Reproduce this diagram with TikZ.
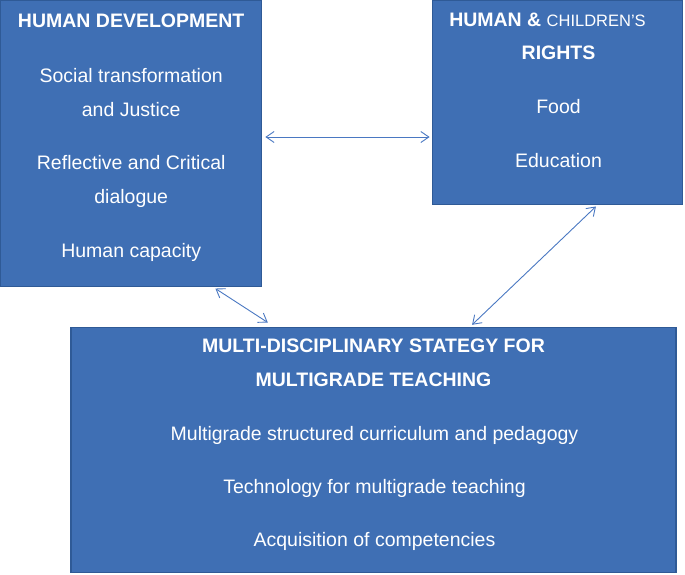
\documentclass[tikz,border=0pt]{standalone}
\usepackage{fontspec}
\setmainfont{Liberation Sans}
\usetikzlibrary{arrows.meta,positioning,calc}
\definecolor{PanelBlue}{HTML}{3F6FB4}
\definecolor{PanelEdge}{HTML}{2F5A96}
\definecolor{LinkBlue}{HTML}{4A78C2}

\tikzset{
  panel/.style={fill=PanelBlue,draw=PanelEdge,line width=1.3pt,inner sep=0pt},
  body/.style={text=white,inner sep=0pt,anchor=base,font=\fontsize{19.5}{23}\selectfont},
  title/.style={body,font=\fontsize{19.5}{23}\selectfont\bfseries},
  link/.style={{Straight Barb[length=8pt,width=11pt]}-{Straight Barb[length=8pt,width=11pt]},draw=LinkBlue,line width=0.9pt}
}

\begin{document}
\begin{tikzpicture}[x=1pt,y=-1pt]
\useasboundingbox (0,0) rectangle (685,574);
% panels
\node[panel,minimum width=261pt,minimum height=286pt] (hd) at (131.2,143.8) {};
\node[panel,minimum width=250.5pt,minimum height=204pt] (hr) at (557.5,102.8) {};
\node[panel,minimum width=605pt,minimum height=245pt] (ms) at (373.5,450) {};
% human development
\node[title] (hdT) at ($(hd.north)+(0,27)$) {HUMAN DEVELOPMENT};
\node[body] (hdA) at ($(hd.north)+(0,82)$) {Social transformation};
\node[body] (hdB) at ($(hd.north)+(0,116)$) {and Justice};
\node[body] (hdC) at ($(hd.north)+(0,169)$) {Reflective and Critical};
\node[body] (hdD) at ($(hd.north)+(0,203)$) {dialogue};
\node[body] (hdE) at ($(hd.north)+(0,257)$) {Human capacity};
% rights
\node[title] (hrT) at ($(hr.north)+(-10,26)$) {HUMAN \& {\fontsize{16.5}{20}\selectfont\mdseries CHILDREN’S}};
\node[title] (hrU) at ($(hr.north)+(1,59.5)$) {RIGHTS};
\node[body] (hrA) at ($(hr.north)+(1,113)$) {Food};
\node[body] (hrB) at ($(hr.north)+(1,167)$) {Education};
% strategy
\node[title] (msT) at ($(ms.north)+(0,26)$) {MULTI-DISCIPLINARY STATEGY FOR};
\node[title] (msU) at ($(ms.north)+(0,60)$) {MULTIGRADE TEACHING};
\node[body] (msA) at ($(ms.north)+(1,113.5)$) {Multigrade structured curriculum and pedagogy};
\node[body] (msB) at ($(ms.north)+(1,167)$) {Technology for multigrade teaching};
\node[body] (msC) at ($(ms.north)+(1,220)$) {Acquisition of competencies};
% links
\draw[link,shorten <=3pt,shorten >=2pt] ([yshift=6.8pt]hd.east) -- ([yshift=-34.2pt]hr.west);
\draw[link,shorten <=2pt,shorten >=8pt] ([xshift=82.5pt]hd.south) -- ([xshift=-99pt]ms.north);
\draw[link,shorten <=1.5pt,shorten >=3pt] ([xshift=39.5pt]hr.south) -- ([xshift=96.4pt]ms.north);
\end{tikzpicture}
\end{document}
